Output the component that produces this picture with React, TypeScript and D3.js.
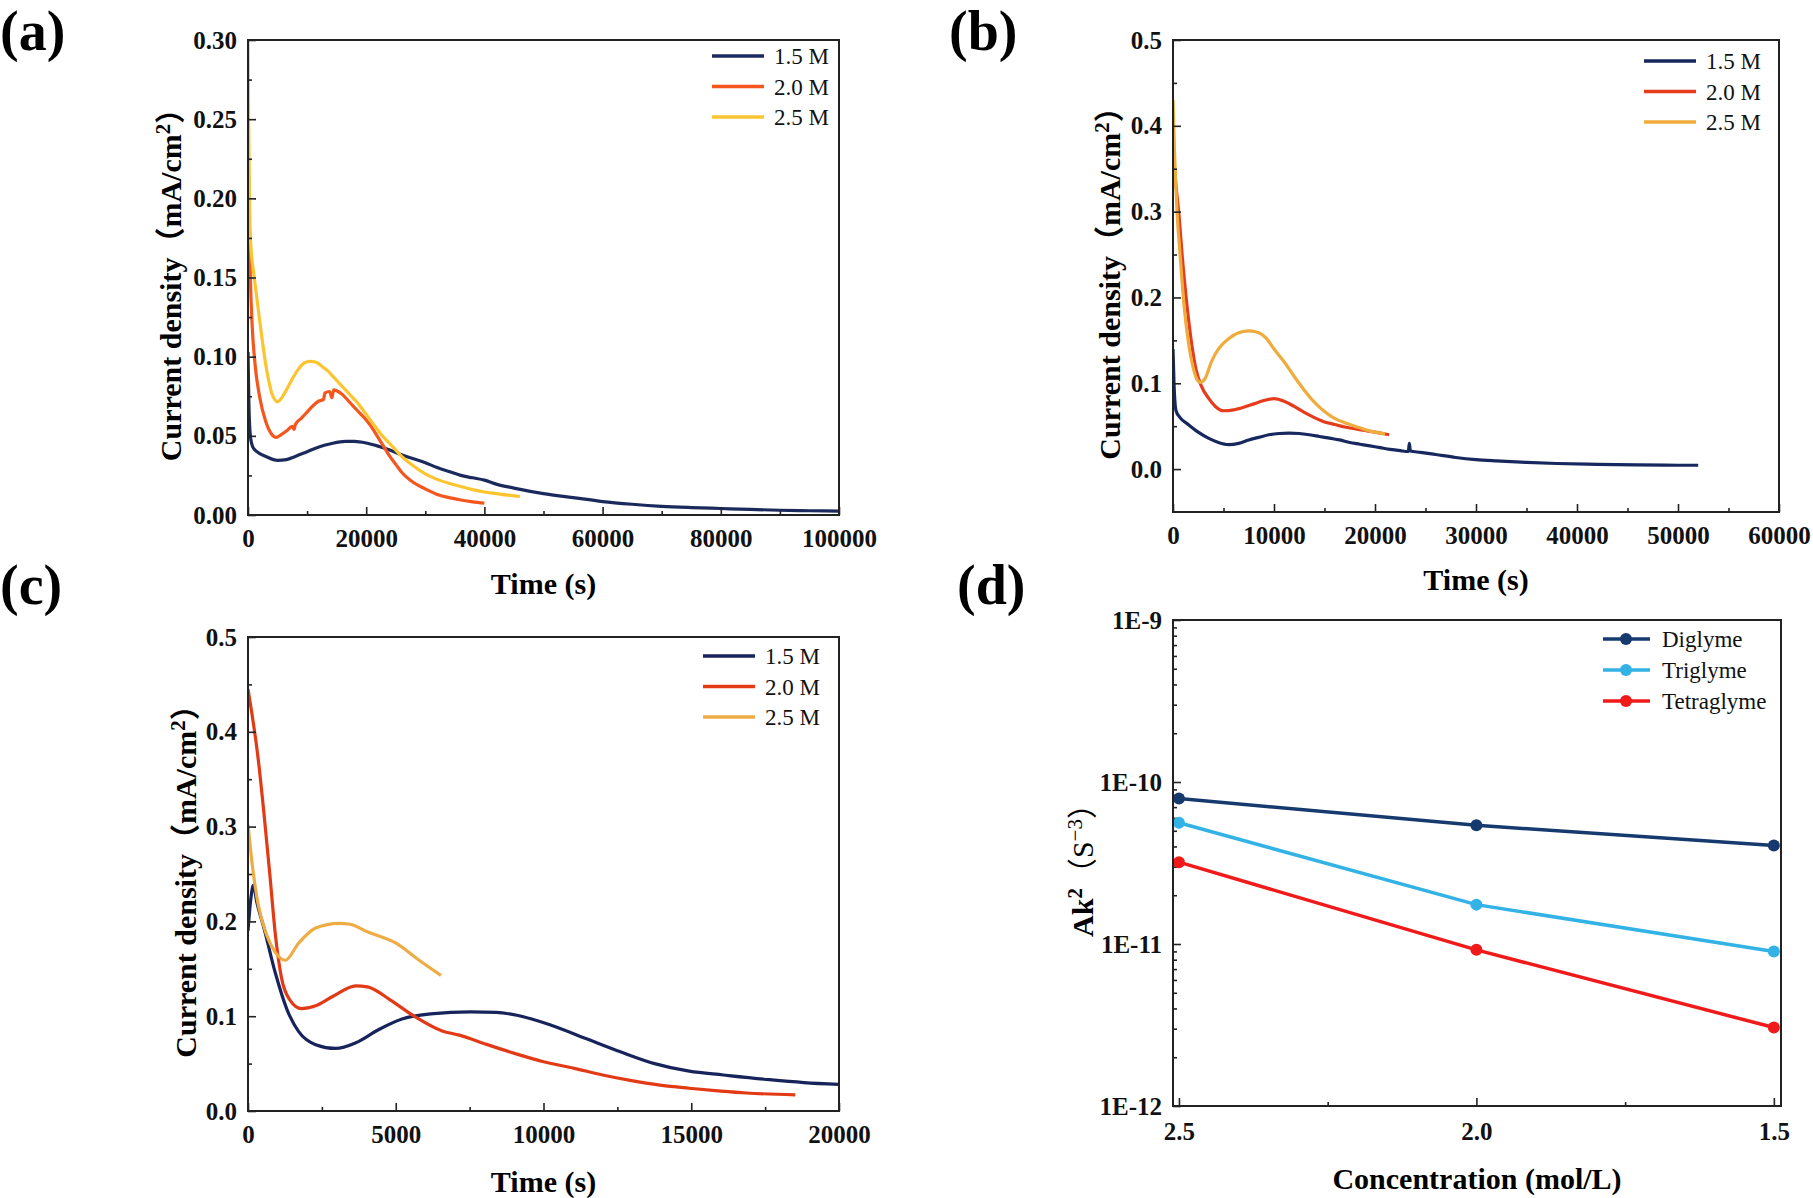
import { useEffect, useRef } from 'react'
import * as d3 from 'd3'

// ---- panel (a): time (s), current density (mA/cm2)
const a15 = [[0, 0.103], [150, 0.07], [400, 0.05], [800, 0.043], [1500, 0.040], [3000, 0.037], [5000, 0.0345], [6500, 0.035], [8000, 0.037], [10000, 0.040], [12000, 0.043], [14000, 0.045], [16500, 0.0465], [18000, 0.0465], [20000, 0.0455], [22000, 0.0435], [24000, 0.041], [26000, 0.038], [28000, 0.0355], [30000, 0.033], [32000, 0.030], [34000, 0.0275], [36000, 0.025], [38000, 0.0235], [40000, 0.022], [42000, 0.0195], [45000, 0.017], [50000, 0.0135], [55000, 0.011], [60000, 0.0085], [65000, 0.0068], [70000, 0.0055], [75000, 0.0047], [80000, 0.0041], [85000, 0.0035], [90000, 0.003], [95000, 0.0027], [100000, 0.0024]]
const a20 = [[0, 0.245], [150, 0.2], [400, 0.15], [700, 0.12], [1200, 0.095], [2000, 0.074], [3000, 0.059], [4000, 0.051], [4800, 0.049], [5500, 0.0505], [6500, 0.053], [7500, 0.056], [7800, 0.054], [8000, 0.057], [9000, 0.061], [10000, 0.065], [11000, 0.069], [12000, 0.072], [12800, 0.073], [13000, 0.077], [13800, 0.078], [14200, 0.074], [14500, 0.079], [15000, 0.0785], [16000, 0.076], [17000, 0.072], [18000, 0.068], [19000, 0.064], [20000, 0.060], [21000, 0.055], [22000, 0.049], [23000, 0.043], [24000, 0.037], [25000, 0.032], [26000, 0.027], [28000, 0.0205], [30000, 0.0165], [32000, 0.013], [34000, 0.011], [36000, 0.0095], [38000, 0.0083], [40000, 0.0075]]
const a25 = [[0, 0.30], [100, 0.25], [250, 0.20], [450, 0.172], [1000, 0.152], [1500, 0.137], [2000, 0.122], [2500, 0.108], [3000, 0.095], [3500, 0.085], [4000, 0.077], [4500, 0.073], [5000, 0.0715], [5500, 0.073], [6500, 0.079], [7500, 0.086], [8500, 0.092], [9500, 0.096], [10500, 0.097], [11500, 0.0965], [12500, 0.094], [13500, 0.091], [14500, 0.087], [15500, 0.083], [16500, 0.079], [17500, 0.075], [18500, 0.071], [19500, 0.066], [20500, 0.061], [21500, 0.056], [22500, 0.051], [23500, 0.047], [24500, 0.043], [26000, 0.037], [28000, 0.031], [30000, 0.026], [32000, 0.0225], [34000, 0.0200], [36000, 0.018], [38000, 0.016], [40000, 0.0145], [42000, 0.0135], [44000, 0.0125], [46000, 0.0117]]

// ---- panel (b)
const b15 = [[0, 0.14], [100, 0.10], [300, 0.068], [700, 0.06], [1500, 0.052], [2500, 0.043], [3500, 0.036], [4500, 0.031], [5500, 0.0285], [6500, 0.030], [7500, 0.034], [8500, 0.037], [9500, 0.040], [10500, 0.0415], [11500, 0.042], [12500, 0.0415], [13500, 0.040], [14500, 0.038], [15500, 0.036], [16500, 0.034], [17500, 0.031], [18500, 0.029], [19500, 0.027], [20500, 0.025], [21500, 0.023], [22500, 0.0215], [23300, 0.0205], [23400, 0.030], [23500, 0.021], [24500, 0.0195], [26000, 0.017], [28000, 0.0135], [30000, 0.011], [32000, 0.0095], [35000, 0.0078], [38000, 0.0065], [42000, 0.0055], [46000, 0.0048], [50000, 0.0045], [52000, 0.0045]]
const b20 = [[0, 0.37], [300, 0.33], [600, 0.295], [900, 0.25], [1300, 0.20], [1800, 0.15], [2300, 0.115], [2800, 0.097], [3500, 0.083], [4200, 0.073], [5000, 0.068], [6000, 0.069], [7000, 0.072], [8000, 0.076], [9000, 0.080], [10000, 0.082], [11000, 0.079], [12000, 0.073], [13000, 0.066], [14000, 0.060], [15000, 0.055], [16000, 0.052], [17000, 0.049], [18000, 0.047], [19000, 0.045], [20000, 0.043], [21400, 0.040]]
const b25 = [[0, 0.43], [150, 0.37], [400, 0.30], [700, 0.25], [1100, 0.19], [1500, 0.15], [2000, 0.118], [2400, 0.104], [2700, 0.101], [3200, 0.106], [3800, 0.125], [4500, 0.140], [5500, 0.152], [6500, 0.159], [7500, 0.161], [8500, 0.159], [9200, 0.153], [10000, 0.140], [11000, 0.125], [12000, 0.108], [13000, 0.092], [14000, 0.078], [15000, 0.067], [16000, 0.059], [17000, 0.054], [18000, 0.050], [19000, 0.046], [20000, 0.043], [21000, 0.041]]

// ---- panel (c)
const c15 = [[0, 0.19], [100, 0.225], [180, 0.238], [300, 0.22], [540, 0.193], [930, 0.145], [1320, 0.107], [1710, 0.084], [2290, 0.070], [2970, 0.066], [3650, 0.072], [4430, 0.086], [5210, 0.097], [6180, 0.1025], [7540, 0.1045], [8400, 0.104], [9100, 0.101], [10260, 0.0905], [11430, 0.0765], [12600, 0.0625], [13760, 0.050], [14930, 0.042], [16090, 0.038], [17650, 0.033], [18810, 0.030], [20000, 0.028]]
const c20 = [[0, 0.445], [350, 0.37], [540, 0.314], [740, 0.249], [930, 0.185], [1130, 0.141], [1420, 0.117], [1810, 0.108], [2290, 0.111], [2880, 0.121], [3650, 0.132], [4040, 0.131], [4820, 0.117], [5600, 0.1005], [6570, 0.0845], [7150, 0.080], [8100, 0.070], [9100, 0.060], [10000, 0.052], [11040, 0.045], [12000, 0.038], [12980, 0.032], [14000, 0.027], [14930, 0.024], [16000, 0.021], [16870, 0.019], [18520, 0.017]]
const c25 = [[0, 0.302], [155, 0.257], [350, 0.217], [640, 0.185], [930, 0.167], [1260, 0.159], [1710, 0.177], [2290, 0.193], [3070, 0.198], [3460, 0.197], [4040, 0.189], [5010, 0.177], [5790, 0.159], [6530, 0.143]]

// ---- panel (d): Ak2 vs concentration
const concentrations = [2.5, 2.0, 1.5]
const diglyme = [7.9e-11, 5.4e-11, 4.05e-11]
const triglyme = [5.6e-11, 1.75e-11, 9.0e-12]
const tetraglyme = [3.2e-11, 9.2e-12, 3.05e-12]

const W = 1813, H = 1198
const FONT = "'Liberation Serif', 'Times New Roman', 'Noto Sans CJK SC', serif"

const timePanels = [
  {
    label: '(a)', lx: 0, ly: 50, box: [248, 40, 839, 515],
    xDomain: [0, 100000], xMajor: d3.range(0, 100001, 20000), xMinor: d3.range(10000, 100000, 20000),
    yDomain: [0, 0.3], yMajor: d3.range(0, 0.301, 0.05), yMinor: d3.range(0.025, 0.3, 0.05), yFmt: '.2f',
    titleY: 594, yTitleX: 170, legX: 712, legY: 56,
    series: [
      { name: '1.5 M', color: '#1b2a5c', data: a15 },
      { name: '2.0 M', color: '#f4561d', data: a20 },
      { name: '2.5 M', color: '#fcc52f', data: a25 },
    ],
  },
  {
    label: '(b)', lx: 949, ly: 50, box: [1173, 40, 1779, 512],
    xDomain: [0, 60000], xMajor: d3.range(0, 60001, 10000), xMinor: d3.range(5000, 60000, 10000),
    yDomain: [-0.05, 0.5], yMajor: d3.range(0, 0.501, 0.1), yMinor: d3.range(0.05, 0.5, 0.1), yFmt: '.1f',
    titleY: 590, yTitleX: 1109, legX: 1644, legY: 61,
    series: [
      { name: '1.5 M', color: '#16285e', data: b15 },
      { name: '2.0 M', color: '#e63c1c', data: b20 },
      { name: '2.5 M', color: '#efac3c', data: b25 },
    ],
  },
  {
    label: '(c)', lx: 0, ly: 604, box: [248, 637, 839, 1111],
    xDomain: [0, 20000], xMajor: d3.range(0, 20001, 5000), xMinor: d3.range(2500, 20000, 5000),
    yDomain: [0, 0.5], yMajor: d3.range(0, 0.501, 0.1), yMinor: d3.range(0.05, 0.5, 0.1), yFmt: '.1f',
    titleY: 1192, yTitleX: 185, legX: 703, legY: 656,
    series: [
      { name: '1.5 M', color: '#17245c', data: c15 },
      { name: '2.0 M', color: '#e33a16', data: c20 },
      { name: '2.5 M', color: '#eeac45', data: c25 },
    ],
  },
]

function frame(g: any, box: number[]) {
  g.append('rect')
    .attr('x', box[0]).attr('y', box[1])
    .attr('width', box[2] - box[0]).attr('height', box[3] - box[1])
    .attr('fill', 'none').attr('stroke', '#222').attr('stroke-width', 2)
}

function styleAxis(sel: any) {
  sel.select('.domain').remove()
  sel.selectAll('line').attr('stroke', '#222').attr('stroke-width', 1.6)
  sel.selectAll('text').attr('fill', '#111').attr('font-family', FONT)
    .attr('font-weight', 'bold').attr('font-size', 25)
}

function drawTime(svg: any, p: any, idx: number) {
  const [x0, y0, x1, y1] = p.box
  const g = svg.append('g')
  const x = d3.scaleLinear().domain(p.xDomain).range([x0, x1])
  const y = d3.scaleLinear().domain(p.yDomain).range([y1, y0])

  g.append('clipPath').attr('id', 'clip' + idx)
    .append('rect').attr('x', x0).attr('y', y0).attr('width', x1 - x0).attr('height', y1 - y0)

  const line = d3.line().x((d: any) => x(d[0])).y((d: any) => y(d[1])).curve(d3.curveMonotoneX)
  g.append('g').attr('clip-path', `url(#clip${idx})`)
    .selectAll('path').data(p.series).join('path')
    .attr('d', (s: any) => line(s.data))
    .attr('fill', 'none').attr('stroke', (s: any) => s.color).attr('stroke-width', 3.2)
    .attr('stroke-linejoin', 'round')

  g.append('g').attr('transform', `translate(0,${y1})`)
    .call(d3.axisBottom(x).tickValues(p.xMinor).tickSize(-4).tickFormat(() => '')).call(styleAxis)
  g.append('g').attr('transform', `translate(0,${y1})`)
    .call(d3.axisBottom(x).tickValues(p.xMajor).tickSize(-8).tickPadding(14).tickFormat(d3.format('d'))).call(styleAxis)
  g.append('g').attr('transform', `translate(${x0},0)`)
    .call(d3.axisLeft(y).tickValues(p.yMinor).tickSize(-4).tickFormat(() => '')).call(styleAxis)
  g.append('g').attr('transform', `translate(${x0},0)`)
    .call(d3.axisLeft(y).tickValues(p.yMajor).tickSize(-8).tickPadding(11).tickFormat(d3.format(p.yFmt))).call(styleAxis)

  frame(g, p.box)

  // titles
  g.append('text').attr('x', (x0 + x1) / 2).attr('y', p.titleY)
    .attr('text-anchor', 'middle').attr('font-family', FONT).attr('font-weight', 'bold')
    .attr('font-size', 30).text('Time (s)')
  const yt = g.append('text')
    .attr('transform', `translate(${p.yTitleX},${(y0 + y1) / 2}) rotate(-90)`)
    .attr('text-anchor', 'middle').attr('dy', '0.35em')
    .attr('font-family', FONT).attr('font-weight', 'bold').attr('font-size', 30)
  yt.append('tspan').text('Current density（mA/cm')
  yt.append('tspan').attr('font-size', 21).attr('dy', -11).text('2')
  yt.append('tspan').attr('dy', 11).text('）')

  // legend
  const leg = g.append('g')
  p.series.forEach((s: any, i: number) => {
    const ly = p.legY + i * 30.5
    leg.append('line').attr('x1', p.legX).attr('x2', p.legX + 52).attr('y1', ly).attr('y2', ly)
      .attr('stroke', s.color).attr('stroke-width', 3.5)
    leg.append('text').attr('x', p.legX + 62).attr('y', ly).attr('dy', '0.35em')
      .attr('font-family', FONT).attr('font-size', 23).attr('fill', '#111').text(s.name)
  })

  svg.append('text').attr('x', p.lx).attr('y', p.ly).attr('font-family', FONT)
    .attr('font-weight', 'bold').attr('font-size', 56).text(p.label)
}

function drawLog(svg: any) {
  const box = [1173, 620, 1781, 1106]
  const [x0, y0, x1, y1] = box
  const g = svg.append('g')
  const x = d3.scaleLinear().domain([2.51, 1.488]).range([x0, x1])
  const y = d3.scaleLog().domain([1e-12, 1e-9]).range([y1, y0])

  const minor: number[] = []
  ;[-12, -11, -10].forEach(e => { for (let k = 2; k <= 9; k++) minor.push(k * Math.pow(10, e)) })

  g.append('g').attr('transform', `translate(0,${y1})`)
    .call(d3.axisBottom(x).tickValues([2.25, 1.75]).tickSize(-4).tickFormat(() => '')).call(styleAxis)
  g.append('g').attr('transform', `translate(0,${y1})`)
    .call(d3.axisBottom(x).tickValues([2.5, 2.0, 1.5]).tickSize(-8).tickPadding(16).tickFormat(d3.format('.1f'))).call(styleAxis)
  g.append('g').attr('transform', `translate(${x0},0)`)
    .call(d3.axisLeft(y).tickValues(minor).tickSize(-4).tickFormat(() => '')).call(styleAxis)
  g.append('g').attr('transform', `translate(${x0},0)`)
    .call(d3.axisLeft(y).tickValues([1e-12, 1e-11, 1e-10, 1e-9]).tickSize(-8).tickPadding(11)
      .tickFormat((v: any) => '1E' + Math.round(Math.log10(v)))).call(styleAxis)

  const series = [
    { name: 'Diglyme', color: '#173a6e', vals: diglyme },
    { name: 'Triglyme', color: '#33b2e6', vals: triglyme },
    { name: 'Tetraglyme', color: '#f11a1a', vals: tetraglyme },
  ]
  const line = d3.line().x((d: any) => x(d[0])).y((d: any) => y(d[1]))
  series.forEach(s => {
    const pts = concentrations.map((c, i) => [c, s.vals[i]])
    g.append('path').attr('d', line(pts as any)).attr('fill', 'none')
      .attr('stroke', s.color).attr('stroke-width', 3.5)
    g.selectAll(null).data(pts).join('circle')
      .attr('cx', (d: any) => x(d[0])).attr('cy', (d: any) => y(d[1])).attr('r', 6)
      .attr('fill', s.color)
  })

  frame(g, box)

  g.append('text').attr('x', (x0 + x1) / 2).attr('y', 1189)
    .attr('text-anchor', 'middle').attr('font-family', FONT).attr('font-weight', 'bold')
    .attr('font-size', 30).text('Concentration (mol/L)')
  const yt = g.append('text')
    .attr('transform', `translate(1082,${(y0 + y1) / 2}) rotate(-90)`)
    .attr('text-anchor', 'middle').attr('dy', '0.35em')
    .attr('font-family', FONT).attr('font-size', 30)
  yt.append('tspan').attr('font-weight', 'bold').text('Ak')
  yt.append('tspan').attr('font-weight', 'bold').attr('font-size', 21).attr('dy', -11).text('2')
  yt.append('tspan').attr('dy', 11).text('（S')
  yt.append('tspan').attr('font-size', 21).attr('dy', -11).text('−3')
  yt.append('tspan').attr('dy', 11).text('）')

  series.forEach((s, i) => {
    const ly = 639 + i * 31
    g.append('line').attr('x1', 1603).attr('x2', 1650).attr('y1', ly).attr('y2', ly)
      .attr('stroke', s.color).attr('stroke-width', 3.5)
    g.append('circle').attr('cx', 1626).attr('cy', ly).attr('r', 6).attr('fill', s.color)
    g.append('text').attr('x', 1662).attr('y', ly).attr('dy', '0.35em')
      .attr('font-family', FONT).attr('font-size', 23).attr('fill', '#111').text(s.name)
  })

  svg.append('text').attr('x', 957).attr('y', 604).attr('font-family', FONT)
    .attr('font-weight', 'bold').attr('font-size', 56).text('(d)')
}

export default function App() {
  const ref = useRef<SVGSVGElement>(null)

  useEffect(() => {
    const svg = d3.select(ref.current)
    svg.selectAll('*').remove()
    svg.append('rect').attr('width', W).attr('height', H).attr('fill', 'white')
    timePanels.forEach((p, i) => drawTime(svg, p, i))
    drawLog(svg)
  }, [])

  return (
    <svg ref={ref} width={W} height={H}
      style={{ position: 'absolute', left: 0, top: 0, display: 'block' }} />
  )
}
